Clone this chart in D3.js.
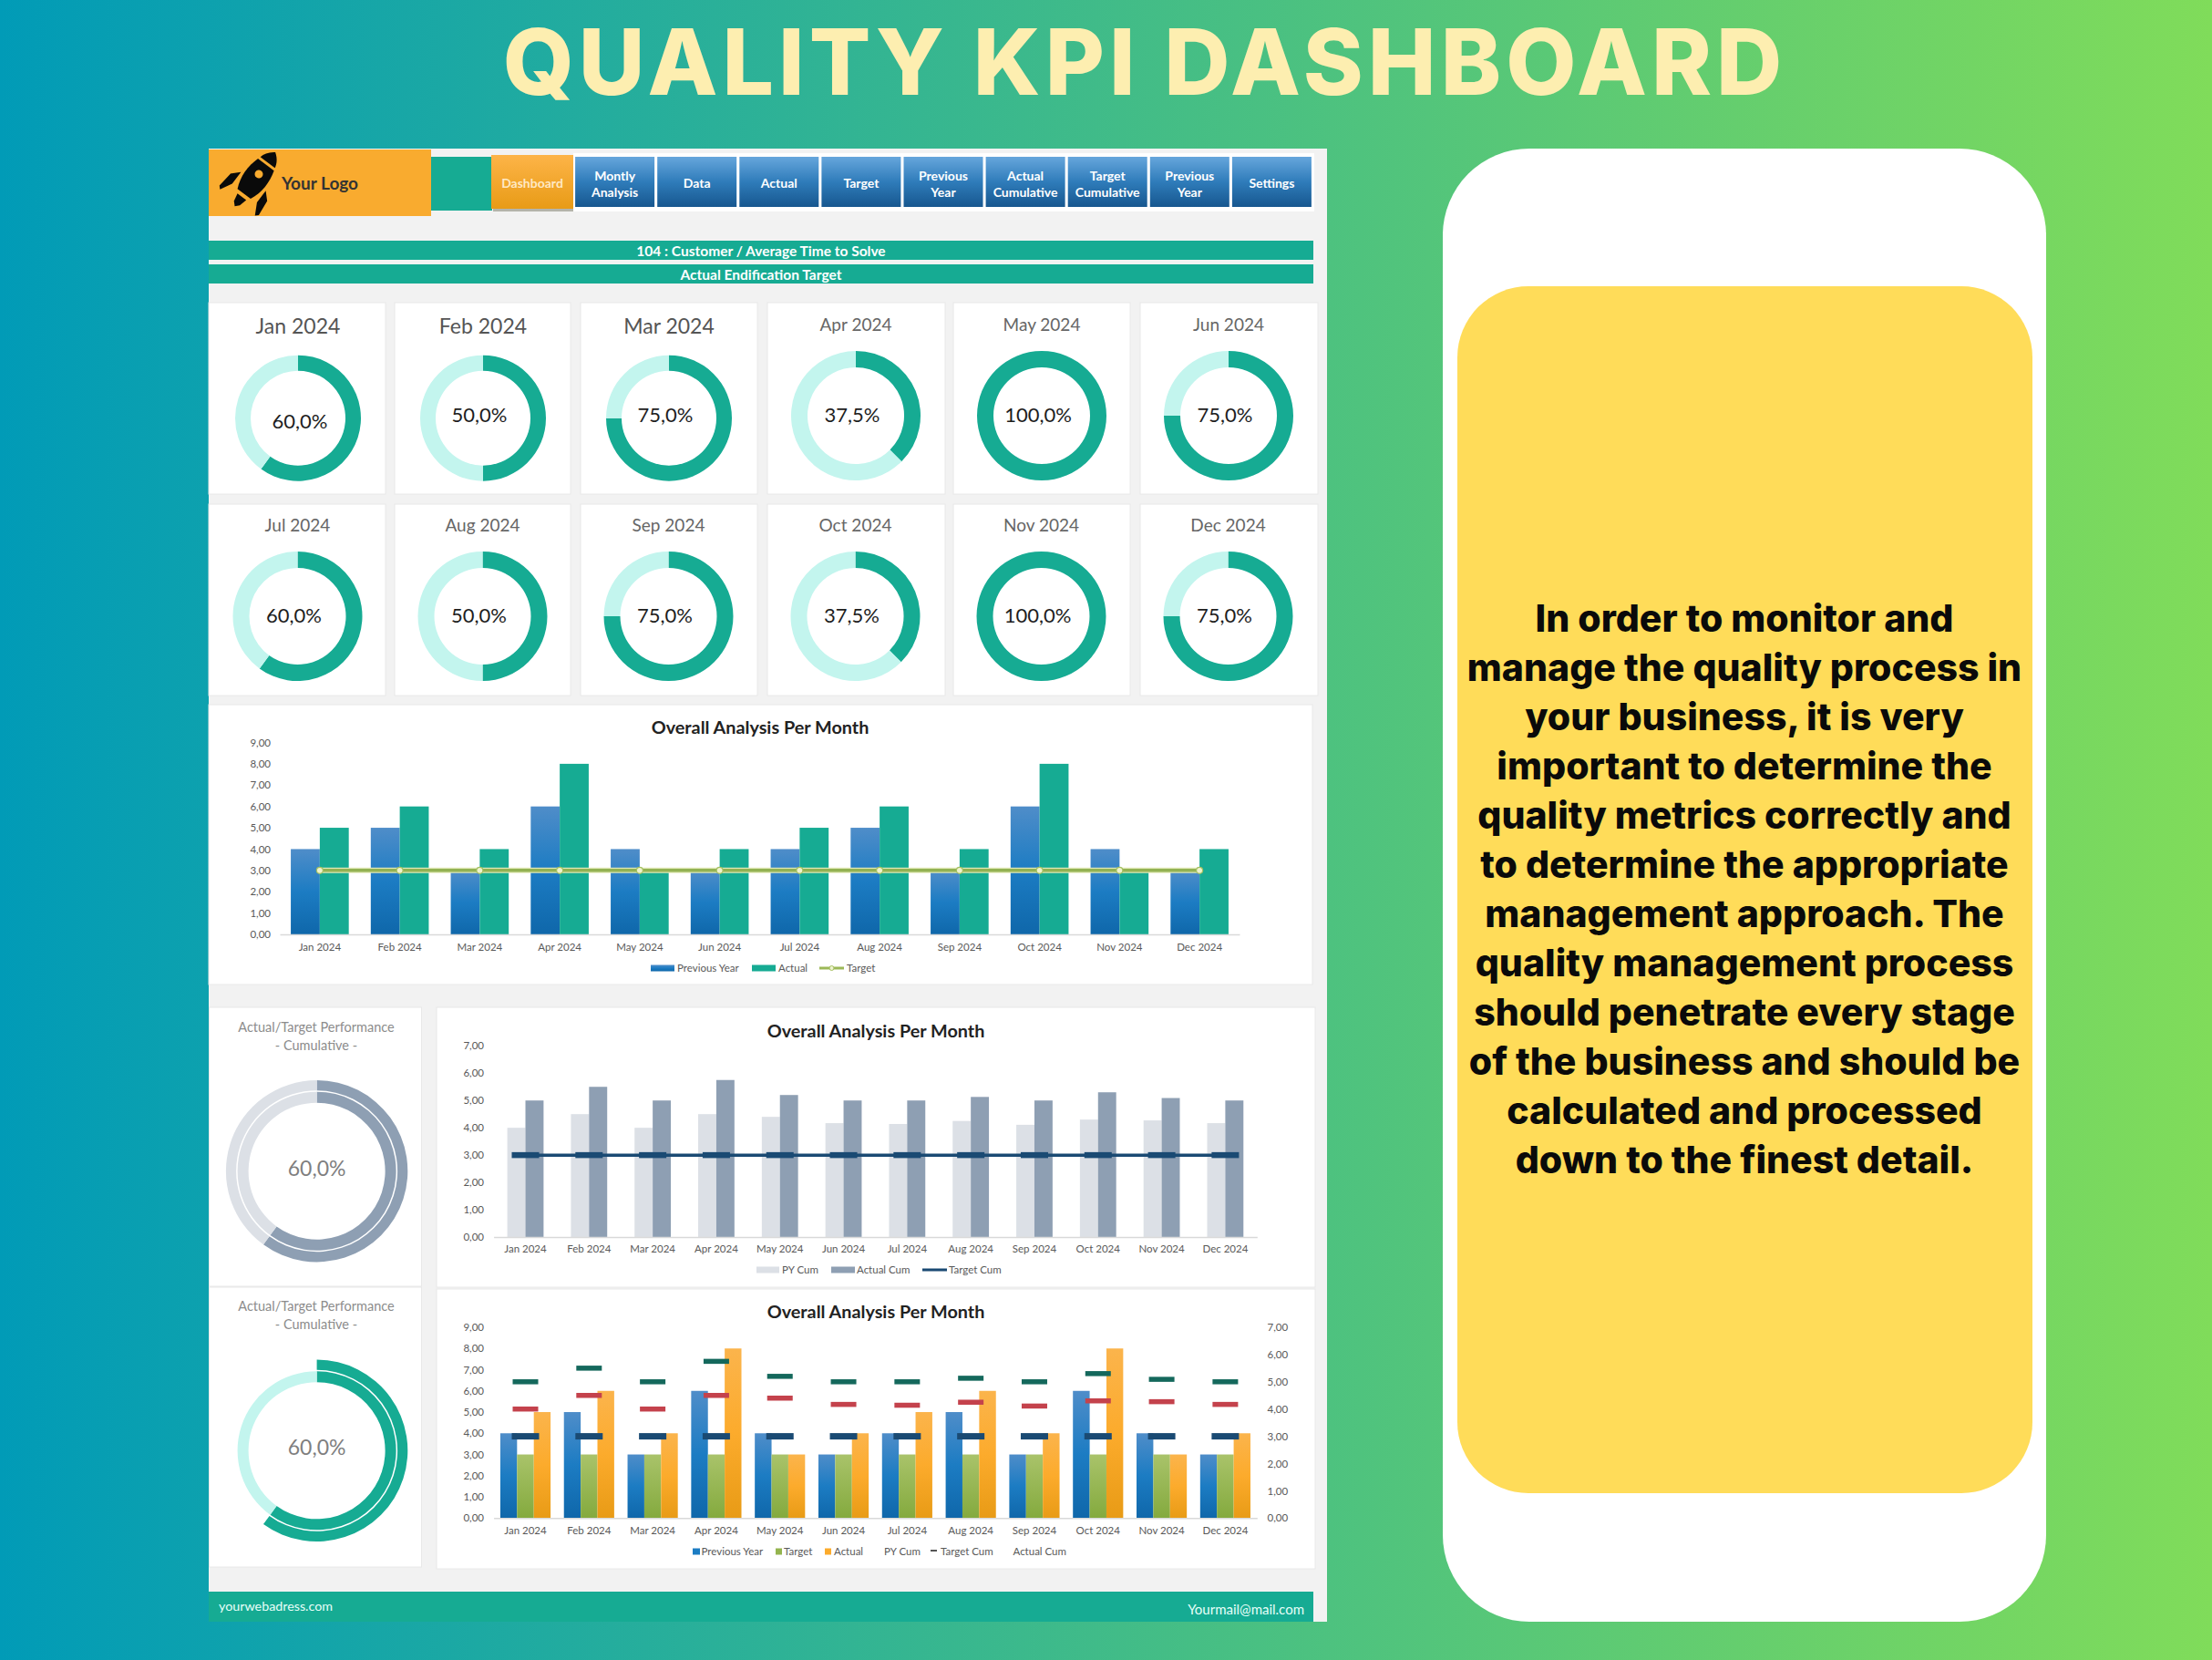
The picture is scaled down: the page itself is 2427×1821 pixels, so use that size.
<!DOCTYPE html>
<html>
<head>
<meta charset="utf-8">
<style>
body { margin: 0; padding: 0; background: #fff; }
svg { display: block; }
</style>
<script src="https://cdn.jsdelivr.net/npm/d3@7"></script>
</head>
<body>
<div id="chart"></div>
<script>
// data
var months = ["Jan 2024", "Feb 2024", "Mar 2024", "Apr 2024", "May 2024", "Jun 2024", "Jul 2024", "Aug 2024", "Sep 2024", "Oct 2024", "Nov 2024", "Dec 2024"];
var previousYear = [4, 5, 3, 6, 4, 3, 4, 5, 3, 6, 4, 3];
var actual = [5, 6, 4, 8, 3, 4, 5, 6, 4, 8, 3, 4];
var target = [3, 3, 3, 3, 3, 3, 3, 3, 3, 3, 3, 3];
var percents = [60, 50, 75, 37.5, 100, 75, 60, 50, 75, 37.5, 100, 75];
var pyCum = [4, 4.5, 4, 4.5, 4.4, 4.17, 4.14, 4.25, 4.11, 4.3, 4.27, 4.17];
var actualCum = [5, 5.5, 5, 5.75, 5.2, 5, 5, 5.13, 5, 5.3, 5.09, 5];
var targetCum = [3, 3, 3, 3, 3, 3, 3, 3, 3, 3, 3, 3];
var cumulativePercent = 60;
var leftTicks9 = [0, 1, 2, 3, 4, 5, 6, 7, 8, 9];
var leftTicks7 = [0, 1, 2, 3, 4, 5, 6, 7];
var navLabels = [["Dashboard"], ["Montly", "Analysis"], ["Data"], ["Actual"], ["Target"], ["Previous", "Year"], ["Actual", "Cumulative"], ["Target", "Cumulative"], ["Previous", "Year"], ["Settings"]];
var bodyLines = ["In order to monitor and", "manage the quality process in", "your business, it is very", "important to determine the", "quality metrics correctly and", "to determine the appropriate", "management approach. The", "quality management process", "should penetrate every stage", "of the business and should be", "calculated and processed", "down to the finest detail."];

var narrow = "Lato,'Liberation Sans',sans-serif";
var TEAL = "#16ab93", PALE = "#c3f5ee", GREYBLUE = "#8e9fb3", PALEGREY = "#dce0e6", NAVY = "#1a4a73";

var fmt = d3.formatLocale({decimal: ",", thousands: ".", grouping: [3], currency: ["", ""]}).format(".2f");

var svg = d3.select("#chart").append("svg").attr("width", 2427).attr("height", 1821);
var defs = svg.append("defs");

function addGradient(id, stops, horizontal) {
	var g = defs.append("linearGradient").attr("id", id)
		.attr("x1", 0).attr("y1", 0)
		.attr("x2", horizontal ? 1 : 0).attr("y2", horizontal ? 0 : 1);
	stops.forEach(function (s) {
		g.append("stop").attr("offset", s[0]).attr("stop-color", s[1]);
	});
}
addGradient("bg", [[0, "#019bb7"], [1, "#80dc5a"]], true);
addGradient("blueBar", [[0, "#4f8dc9"], [0.5, "#1c7cc3"], [1, "#0f67aa"]]);
addGradient("orangeBar", [[0, "#fbb44c"], [0.5, "#fcab2c"], [1, "#e89b16"]]);
addGradient("greenBar", [[0, "#a9c36a"], [1, "#84aa3e"]]);
addGradient("navBlue", [[0, "#66a6dc"], [0.5, "#2f7cba"], [1, "#17578f"]]);
addGradient("navOrange", [[0, "#fdb448"], [1, "#e89b16"]]);

function rect(x, y, w, h, fill, stroke) {
	return svg.append("rect").attr("x", x).attr("y", y).attr("width", w).attr("height", h)
		.attr("fill", fill).attr("stroke", stroke || "none");
}

function label(x, y, str, size, color, weight, anchor, family) {
	return svg.append("text").attr("x", x).attr("y", y).text(str)
		.attr("font-family", family || narrow)
		.attr("font-size", size)
		.attr("fill", color)
		.attr("font-weight", weight || "normal")
		.attr("text-anchor", anchor || "middle")
		.attr("dominant-baseline", "central");
}

// page
rect(0, 0, 2427, 1821, "url(#bg)");
label(1256, 67, "QUALITY KPI DASHBOARD", 100, "#fdeeb0", 800, "middle", "Inter")
	.attr("letter-spacing", 5);

// right card
rect(1583, 163, 662, 1616, "#ffffff").attr("rx", 95).attr("ry", 95);
rect(1599, 314, 631, 1324, "#ffdc59").attr("rx", 78).attr("ry", 78);
svg.append("g").selectAll("text").data(bodyLines).join("text")
	.attr("x", 1914)
	.attr("y", function (d, i) { return 678 + i * 54; })
	.attr("text-anchor", "middle")
	.attr("dominant-baseline", "central")
	.attr("font-family", "Inter")
	.attr("font-weight", 800)
	.attr("font-size", 41)
	.attr("fill", "#0a0a0a")
	.text(function (d) { return d; });

// dashboard sheet
rect(229, 163, 1227, 1616, "#f2f2f2");
rect(473, 172, 67, 59, TEAL);
rect(629, 168, 813, 64, "#ffffff");
rect(229, 164, 244, 73, "#f9ab2f");

// logo
var rocket = svg.append("g").attr("transform", "translate(278,199) rotate(37)");
rocket.append("path").attr("fill", "#0a0a0a")
	.attr("d", "M0,-40 C6,-36 9,-31 10,-26 L-10,-26 C-9,-31 -6,-36 0,-40 Z");
rocket.append("path").attr("fill", "#0a0a0a")
	.attr("d", "M-11,-23 L11,-23 C15,-10 15,4 9,17 L-9,17 C-15,4 -15,-10 -11,-23 Z");
rocket.append("path").attr("fill", "#0a0a0a")
	.attr("d", "M-17,0 L-17,16 L-24,29 L-27,26 L-25,8 Z M17,0 L17,16 L24,29 L27,26 L25,8 Z");
rocket.append("path").attr("fill", "#0a0a0a").attr("d", "M-6,21 L6,21 L4,30 L0,34 L-4,30 Z");
rocket.append("circle").attr("cy", -10).attr("r", 4.5).attr("fill", "#f9ab2f");
label(351, 200.5, "Your Logo", 19, "#333", "bold");

// navigation buttons
rect(541, 228, 88, 4, "#8a8a7a").attr("opacity", 0.6);
var nav = svg.append("g").selectAll("g").data(navLabels).join("g")
	.attr("transform", function (d, i) { return "translate(" + (i === 0 ? 539 : 541 + i * 90.1) + ",0)"; });
nav.append("rect")
	.attr("y", function (d, i) { return i === 0 ? 170 : 172; })
	.attr("width", function (d, i) { return i === 0 ? 90 : 87; })
	.attr("height", function (d, i) { return i === 0 ? 59 : 55; })
	.attr("fill", function (d, i) { return i === 0 ? "url(#navOrange)" : "url(#navBlue)"; });
nav.each(function (d, i) {
	var cx = i === 0 ? 45 : 43.5;
	d3.select(this).selectAll("text").data(d).join("text")
		.attr("x", cx)
		.attr("y", function (t, j) { return d.length === 1 ? 200.5 : 192 + j * 18; })
		.attr("text-anchor", "middle")
		.attr("dominant-baseline", "central")
		.attr("font-family", narrow)
		.attr("font-weight", "bold")
		.attr("font-size", 14)
		.attr("fill", i === 0 ? "#ffe9c4" : "#ffffff")
		.text(function (t) { return t; });
});

// section bars
rect(229, 264, 1212, 21, TEAL);
label(835, 274.5, "104 : Customer / Average Time to Solve", 15.5, "#fff", "bold");
rect(229, 290, 1212, 21, TEAL);
label(835, 300.5, "Actual Endification Target", 15.5, "#fff", "bold");

// footer
rect(229, 1746, 1212, 33, TEAL);
label(240, 1761, "yourwebadress.com", 14.3, "#e6fff9", "normal", "start");
label(1431, 1765, "Yourmail@mail.com", 15, "#e6fff9", "normal", "end");

// month cards
var cardX = [[229, 194], [433, 193], [637, 194], [842, 195], [1046, 194], [1251, 195]];
var ringCenters = [327, 530, 734, 939, 1143, 1348];
var pie = d3.pie().sort(null).value(function (d) { return d; });

function ring(g, pct, inner, outer, on, off) {
	var arc = d3.arc().innerRadius(inner).outerRadius(outer);
	g.selectAll(null).data(pie([pct, 100 - pct])).join("path")
		.attr("d", arc)
		.attr("fill", function (d, i) { return i === 0 ? on : off; });
}

months.forEach(function (m, i) {
	var col = i % 6, row = Math.floor(i / 6);
	var big = i < 3;
	var top = row === 0 ? 332 : 553;
	rect(cardX[col][0], top, cardX[col][1], 210, "#ffffff", "#e8e8e8");
	var cy = row === 0 ? (big ? 458.7 : 456) : 676;
	var r = big ? 69 : 71;
	var cx = ringCenters[col] + (row === 1 ? -0.5 : 0);
	var g = svg.append("g").attr("transform", "translate(" + cx + "," + cy + ")");
	ring(g, percents[i], r - (big ? 17 : 18), r, TEAL, PALE);
	label(cx, row === 0 ? (big ? 357 : 355.5) : 575, m, big ? 23 : 19, big ? "#555" : "#666");
	var lx = i === 0 ? 329 : cx - 4;
	var ly = i === 0 ? 461.5 : (row === 0 ? 454 : 674.5);
	label(lx, ly, d3.format(".1f")(percents[i]).replace(".", ",") + "%", 22, "#1e1e1e");
});

// shared chart pieces
function makeX(left, right, padding) {
	return d3.scaleBand().domain(months).range([left, right]).paddingInner(padding).paddingOuter(padding / 2);
}

function xAxis(x, y0, labelY) {
	var g = svg.append("g").attr("transform", "translate(0," + y0 + ")")
		.call(d3.axisBottom(x).tickSize(0).tickPadding(labelY - y0 - 6));
	g.select(".domain").attr("stroke", "#d9d9d9").attr("stroke-width", 1.5);
	styleTicks(g);
}

function yAxis(y, ticks, x0, right) {
	var axis = right ? d3.axisRight(y) : d3.axisLeft(y);
	var g = svg.append("g").attr("transform", "translate(" + x0 + ",0)")
		.call(axis.tickValues(ticks).tickFormat(fmt).tickSize(0).tickPadding(0));
	g.select(".domain").remove();
	styleTicks(g);
}

function styleTicks(g) {
	g.selectAll("text")
		.attr("font-family", narrow)
		.attr("font-size", 11.5)
		.attr("fill", "#595959");
}

function bars(cls, values, x, sub, key, y, fill) {
	svg.append("g").attr("class", cls).selectAll("rect").data(values).join("rect")
		.attr("x", function (d, i) { return x(months[i]) + sub(key); })
		.attr("y", function (d) { return y(d); })
		.attr("width", sub.bandwidth())
		.attr("height", function (d) { return y(0) - y(d); })
		.attr("fill", fill);
}

function dashes(values, x, y, w, h, color) {
	svg.append("g").selectAll("rect").data(values).join("rect")
		.attr("x", function (d, i) { return x(months[i]) + x.bandwidth() / 2 - w / 2; })
		.attr("y", function (d) { return y(d) - h / 2; })
		.attr("width", w)
		.attr("height", h)
		.attr("fill", color);
}

function legendBox(x, y, w, h, fill) {
	rect(x, y - h / 2, w, h, fill);
}

function legendText(x, y, str) {
	label(x, y, str, 11.5, "#595959", "normal", "start");
}

// chart 1
rect(229, 773, 1211, 307, "#ffffff", "#e8e8e8");
label(834, 796.5, "Overall Analysis Per Month", 19.8, "#222", "bold");
var x1 = makeX(307, 1360, 0.275);
var sub1 = d3.scaleBand().domain(["py", "act"]).range([0, x1.bandwidth()]);
var y1 = d3.scaleLinear().domain([0, 9]).range([1025, 814.5]);
yAxis(y1, leftTicks9, 297);
bars("py", previousYear, x1, sub1, "py", y1, "url(#blueBar)");
bars("act", actual, x1, sub1, "act", y1, TEAL);
xAxis(x1, 1025, 1040.5);
var targetLine = d3.line()
	.x(function (d, i) { return x1(months[i]) + x1.bandwidth() / 2; })
	.y(function (d) { return y1(d); });
svg.append("path").attr("d", targetLine(target)).attr("fill", "none").attr("stroke", "#dfe8b4").attr("stroke-width", 6);
svg.append("path").attr("d", targetLine(target)).attr("fill", "none").attr("stroke", "#93b253").attr("stroke-width", 3.5);
svg.append("g").selectAll("circle").data(target).join("circle")
	.attr("cx", function (d, i) { return x1(months[i]) + x1.bandwidth() / 2; })
	.attr("cy", function (d) { return y1(d); })
	.attr("r", 3.5)
	.attr("fill", "#eef3cf")
	.attr("stroke", "#a3bf5f")
	.attr("stroke-width", 1.2);
legendBox(714, 1062, 26, 7, "url(#blueBar)");
legendText(743, 1061, "Previous Year");
legendBox(825, 1062, 26, 7, TEAL);
legendText(854, 1061, "Actual");
svg.append("line").attr("x1", 899).attr("x2", 926).attr("y1", 1062).attr("y2", 1062).attr("stroke", "#9cb957").attr("stroke-width", 3);
svg.append("circle").attr("cx", 912.5).attr("cy", 1062).attr("r", 2.5).attr("fill", "#eef3cf").attr("stroke", "#a3bf5f");
legendText(929, 1061, "Target");

// chart 2
rect(479, 1105, 964, 307, "#ffffff", "#e8e8e8");
label(961, 1130, "Overall Analysis Per Month", 19.8, "#222", "bold");
var x2 = makeX(541.6, 1379.3, 0.43);
var sub2 = d3.scaleBand().domain(["py", "act"]).range([0, x2.bandwidth()]);
var y2 = d3.scaleLinear().domain([0, 7]).range([1357, 1147.3]);
yAxis(y2, leftTicks7, 531);
bars("pycum", pyCum, x2, sub2, "py", y2, PALEGREY);
bars("actcum", actualCum, x2, sub2, "act", y2, GREYBLUE);
xAxis(x2, 1357, 1372);
var cumLine = d3.line()
	.x(function (d, i) { return x2(months[i]) + x2.bandwidth() / 2; })
	.y(function (d) { return y2(d); });
svg.append("path").attr("d", cumLine(targetCum)).attr("fill", "none").attr("stroke", NAVY).attr("stroke-width", 3.5);
dashes(targetCum, x2, y2, 30, 6.5, NAVY);
legendBox(830, 1393, 25, 7, PALEGREY);
legendText(858, 1392.5, "PY Cum");
legendBox(912, 1393, 26, 7, GREYBLUE);
legendText(940, 1392.5, "Actual Cum");
legendBox(1012, 1393, 27, 3, NAVY);
legendText(1041, 1392.5, "Target Cum");

// chart 3
rect(479, 1414, 964, 307, "#ffffff", "#e8e8e8");
label(961, 1438, "Overall Analysis Per Month", 19.8, "#222", "bold");
var x3 = makeX(541.6, 1379.3, 0.21);
var sub3 = d3.scaleBand().domain(["py", "tgt", "act"]).range([0, x3.bandwidth()]);
var y3 = d3.scaleLinear().domain([0, 9]).range([1665.3, 1456]);
var y3r = d3.scaleLinear().domain([0, 7]).range([1665.3, 1456]);
yAxis(y3, leftTicks9, 531);
yAxis(y3r, leftTicks7, 1390.5, true);
bars("py", previousYear, x3, sub3, "py", y3, "url(#blueBar)");
bars("tgt", target, x3, sub3, "tgt", y3, "url(#greenBar)");
bars("act", actual, x3, sub3, "act", y3, "url(#orangeBar)");
xAxis(x3, 1665.3, 1680.5);
dashes(actualCum, x3, y3r, 28, 5.5, "#14685c");
dashes(pyCum, x3, y3r, 28, 5.5, "#c4424c");
dashes(targetCum, x3, y3r, 30, 7, NAVY);
legendBox(760, 1702, 8, 7, "#1c7cc3");
legendText(769.5, 1701, "Previous Year");
legendBox(851, 1702, 7, 7, "#94b44e");
legendText(860, 1701, "Target");
legendBox(905, 1702, 7, 7, "#fcab2c");
legendText(915, 1701, "Actual");
legendText(970, 1701, "PY Cum");
legendBox(1021, 1701, 7, 2, "#555");
legendText(1032, 1701, "Target Cum");
legendText(1111.5, 1701, "Actual Cum");

// cumulative rings
function cumulativeCard(top, h, titleY, cy, labelY, on, off, hideOuterRest) {
	rect(229.5, top, 233, h, "#ffffff", "#e8e8e8");
	label(347, titleY, "Actual/Target Performance", 14.5, "#8c8c8c");
	label(347, titleY + 20, "- Cumulative -", 14.5, "#8c8c8c");
	var g = svg.append("g").attr("transform", "translate(347.6," + cy + ")");
	ring(g.append("g"), cumulativePercent, 88.5, 99.7, on, hideOuterRest ? "none" : off);
	ring(g.append("g"), cumulativePercent, 75, 87, on, off);
	label(347.6, labelY, d3.format(".1f")(cumulativePercent).replace(".", ",") + "%", 23, "#7f7f7f");
}
cumulativeCard(1105, 306, 1126.5, 1284.7, 1281, GREYBLUE, PALEGREY, false);
cumulativeCard(1412, 307, 1432.5, 1591.3, 1587, TEAL, PALE, true);
</script>
</body>
</html>
